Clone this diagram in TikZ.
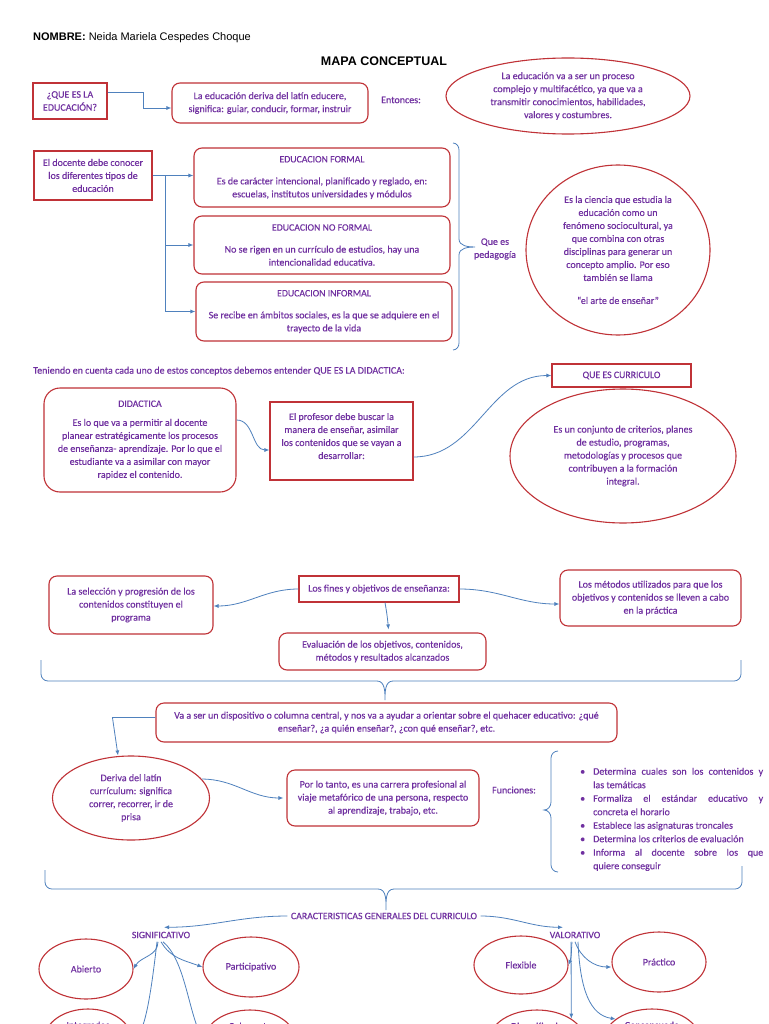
\documentclass[tikz,border=0pt]{standalone}
\usepackage{fontspec}
\setmainfont{Carlito}[FakeBold=0.35]
\newfontfamily\arialf{Liberation Sans}
\usetikzlibrary{shapes.geometric,arrows.meta,calc}
\definecolor{pur}{RGB}{112,48,160}
\definecolor{redc}{RGB}{192,50,55}
\definecolor{bluc}{RGB}{79,129,189}
\newcommand\fsz{\fontsize{10}{13}\selectfont}
\newcommand\fst{\fontsize{9.8}{13}\selectfont}
\newcommand\bul[1]{\par\hangindent=20pt\hangafter=1\noindent\hbox to 20pt{\hspace{7pt}\textbullet\hfil}#1\par}
\tikzset{
  txt/.style={text=pur, font=\fsz, align=center},
  rbox/.style={draw=redc, line width=1.1pt, rounded corners=8pt, fill=white, txt, inner sep=1pt},
  sbox/.style={draw=redc, line width=1.1pt, fill=white, txt, inner sep=1pt},
  ell/.style={draw=redc, ellipse, line width=1.1pt, fill=white, txt, inner sep=0pt},
  conn/.style={draw=bluc, line width=0.8pt, -{Latex[length=5pt,width=4pt]}},
  brc/.style={draw=bluc, line width=0.8pt}
}
\begin{document}
\begin{tikzpicture}[x=1pt,y=-1pt]
\useasboundingbox (0,0) rectangle (768,1024);
\clip (0,0) rectangle (768,1024);
\fill[white] (0,0) rectangle (768,1024);

% header
\node[anchor=west, font=\arialf\fontsize{11}{13}\selectfont, text=black, inner sep=0pt] (nom) at (33,38) {\textbf{NOMBRE:} Neida Mariela Cespedes Choque};
\node[font=\arialf\bfseries\fontsize{12.5}{14}\selectfont, text=black] (tit) at (384,61) {MAPA CONCEPTUAL};

% row 1
\node[sbox, minimum width=74pt, minimum height=36pt] (q1) at (70,101) {¿QUE ES LA\\EDUCACIÓN?};
\node[rbox, minimum width=196pt, minimum height=40pt] (e1) at (270,103) {La educación deriva del latín educere,\\significa: guiar, conducir, formar, instruir};
\node[txt] (ent) at (401,100) {Entonces:};
\node[ell, minimum width=244pt, minimum height=76pt] (el1) at (568,96) {La educación va a ser un proceso\\complejo y multifacético, ya que va a\\transmitir conocimientos, habilidades,\\valores y costumbres.};
\draw[conn] ([yshift=9pt]q1.east) -- ++(36,0) |- ([yshift=-5pt]e1.west);

% row 2
\node[sbox, minimum width=118pt, minimum height=49pt] (d1) at (93,175.5) {El docente debe conocer\\los diferentes tipos de\\educación};
\node[rbox, minimum width=256pt, minimum height=59pt] (f1) at (322,177.5) {{\fst EDUCACION FORMAL}\\[9pt]Es de carácter intencional, planificado y reglado, en:\\escuelas, institutos universidades y módulos};
\node[rbox, minimum width=256pt, minimum height=58pt] (f2) at (322,245) {{\fst EDUCACION NO FORMAL}\\[9pt]No se rigen en un currículo de estudios, hay una\\intencionalidad educativa.};
\node[rbox, minimum width=256pt, minimum height=59pt] (f3) at (324,311.5) {{\fst EDUCACION INFORMAL}\\[9pt]Se recibe en ámbitos sociales, es la que se adquiere en el\\trayecto de la vida};
\coordinate (j1) at (165,175.5);
\draw[conn] (d1.east) -- (d1.east -| f1.west);
\draw[conn] (j1) |- (f2.west);
\draw[conn] (j1) |- (f3.west);
\draw[brc] (453,143) to[out=0,in=90] (459,150) -- (459,239) to[out=-90,in=180] (475,247) to[out=180,in=90] (459,255) -- (459,343) to[out=-90,in=0] (453,350);
\node[txt] (qp) at (495,249) {Que es\\pedagogía};
\node[ell, minimum width=184pt, minimum height=170pt] (el2) at (618,250) {Es la ciencia que estudia la\\educación como un\\fenómeno sociocultural, ya\\que combina con otras\\disciplinas para generar un\\concepto amplio. Por eso\\también se llama\\[10pt]“el arte de enseñar”};

% row 3
\node[txt, anchor=west, inner sep=0pt] (ten) at (33,371) {Teniendo en cuenta cada uno de estos conceptos debemos entender QUE ES LA DIDACTICA:};
\node[rbox, rounded corners=16pt, minimum width=192pt, minimum height=104pt] (did) at (140,440) {{\fst DIDACTICA}\\[6pt]Es lo que va a permitir al docente\\planear estratégicamente los procesos\\de enseñanza- aprendizaje. Por lo que el\\estudiante va a asimilar con mayor\\rapidez el contenido.};
\node[sbox, minimum width=143pt, minimum height=78pt] (prof) at (341.5,441) {El profesor debe buscar la\\manera de enseñar, asimilar\\los contenidos que se vayan a\\desarrollar:\\[-3pt]\mbox{}};
\node[ell, minimum width=226pt, minimum height=134pt] (el3) at (623,456) {Es un conjunto de criterios, planes\\de estudio, programas,\\metodologías y procesos que\\contribuyen a la formación\\integral.};
\node[sbox, minimum width=139pt, minimum height=23pt] (cq) at (621.5,375.5) {{\fst QUE ES CURRICULO}};
\draw[conn] ([yshift=20pt]did.east) to[out=0,in=180] ([yshift=-9pt]prof.west);
\draw[conn] ([yshift=-16pt]prof.east) to[out=0,in=180] (cq.west);

% row 4
\node[sbox, minimum width=160pt, minimum height=26pt] (fin) at (379,589) {Los fines y objetivos de enseñanza:};
\node[rbox, minimum width=164pt, minimum height=58pt] (sel) at (131,605) {La selección y progresión de los\\contenidos constituyen el\\programa};
\node[rbox, minimum width=181pt, minimum height=56pt] (met) at (650.5,598) {Los métodos utilizados para que los\\objetivos y contenidos se lleven a cabo\\en la práctica};
\node[rbox, minimum width=207pt, minimum height=37pt] (eva) at (382.5,651.5) {Evaluación de los objetivos, contenidos,\\métodos y resultados alcanzados};
\draw[conn] (fin.west) to[out=180,in=0] ([yshift=-1pt]sel.east);
\draw[conn] (fin.east) to[out=0,in=180] ([yshift=-6pt]met.west);
\draw[conn] ([xshift=6pt]fin.south) to[out=-80,in=95] ([xshift=6pt,yshift=3pt]eva.north);
\draw[brc] (41,660) -- (41,674) to[out=-90,in=180] (48,681) -- (377,681) to[out=0,in=90] (385,700) to[out=90,in=180] (393,681) -- (734,681) to[out=0,in=-90] (741,674) -- (741,660);

% row 5
\node[rbox, minimum width=461pt, minimum height=39pt] (va) at (386.5,722.5) {Va a ser un dispositivo o columna central, y nos va a ayudar a orientar sobre el quehacer educativo: ¿qué\\enseñar?, ¿a quién enseñar?, ¿con qué enseñar?, etc.};
\node[ell, minimum width=157pt, minimum height=84pt] (der) at (131,798) {Deriva del latín\\currículum: significa\\correr, recorrer, ir de\\prisa};
\node[rbox, minimum width=192pt, minimum height=56pt] (por) at (383,798) {Por lo tanto, es una carrera profesional al\\viaje metafórico de una persona, respecto\\al aprendizaje, trabajo, etc.};
\draw[conn] ([yshift=5pt]va.west) -- ++(-43,0) -- ([xshift=-13pt]der.north);
\draw[conn] (der.15) to[out=0,in=180] ([xshift=-3pt]por.west);
\node[txt] (fun) at (514,790) {Funciones:};
\draw[brc] (558,751) to[out=180,in=90] (551,758) -- (551,802) to[out=-90,in=0] (544,810) to[out=0,in=90] (551,818) -- (551,865) to[out=-90,in=180] (558,872);
\node[txt, anchor=north west, text width=190pt, align=justify, inner sep=0pt, font=\fontsize{10}{13.5}\selectfont] (lst) at (573,761) {%
\bul{Determina cuales son los contenidos y\linebreak las temáticas}%
\bul{Formaliza el estándar educativo y\linebreak concreta el horario}%
\bul{Establece las asignaturas troncales}%
\bul{Determina los criterios de evaluación}%
\bul{Informa al docente sobre los que\linebreak quiere conseguir}};
\draw[brc] (45,870) -- (45,882) to[out=-90,in=180] (52,889) -- (378,889) to[out=0,in=90] (386,910) to[out=90,in=180] (394,889) -- (735,889) to[out=0,in=-90] (742,882) -- (742,866);

% row 6
\node[txt, font=\fst] (car) at (384,916) {CARACTERISTICAS GENERALES DEL CURRICULO};
\node[txt, font=\fst] (sig) at (161,935) {SIGNIFICATIVO};
\node[txt, font=\fst] (val) at (575,935) {VALORATIVO};
\draw[conn] (car.west) to[out=180,in=0] ([xshift=3pt,yshift=1pt]sig.north);
\draw[conn] (car.east) to[out=0,in=180] ([xshift=-12pt,yshift=1pt]val.north);

\node[ell, minimum width=94pt, minimum height=60pt] (ab) at (86,969) {Abierto};
\node[ell, minimum width=96pt, minimum height=60pt] (par) at (251,967) {Participativo};
\node[ell, minimum width=94pt, minimum height=58pt] (fle) at (521,965) {Flexible};
\node[ell, minimum width=94pt, minimum height=60pt] (pra) at (659,962) {Práctico};
\node[ell, minimum width=88pt, minimum height=62pt, text height=7pt, text depth=30pt] (int) at (88,1040) {Integrados};
\node[ell, minimum width=92pt, minimum height=62pt, text height=7pt, text depth=30pt] (coh) at (250,1041) {Coherente};
\node[ell, minimum width=96pt, minimum height=62pt, text height=7pt, text depth=30pt] (div) at (537,1041) {Diversificado};
\node[ell, minimum width=96pt, minimum height=62pt, text height=7pt, text depth=30pt] (con) at (652,1040) {Consensuado};

\draw[conn] ([xshift=-3pt]sig.south) to[out=-90,in=60] (ab.east);
\draw[conn] (sig.south) to[out=-60,in=160] (par.west);
\draw[conn] ([xshift=-4pt]sig.south) .. controls (152,985) and (146,1030) .. (int.east);
\draw[conn] ([xshift=2pt]sig.south) .. controls (185,960) and (188,1010) .. (coh.west);
\draw[conn] ([xshift=-3pt]val.south) to[out=-95,in=70] (fle.east);
\draw[conn] (val.south) to[out=-70,in=180] ([yshift=-5pt]pra.west);
\draw[conn] ([xshift=-4pt]val.south) -- (div.north east);
\draw[conn] ([xshift=3pt]val.south) .. controls (580,990) and (590,1015) .. (con.150);
\end{tikzpicture}
\end{document}
